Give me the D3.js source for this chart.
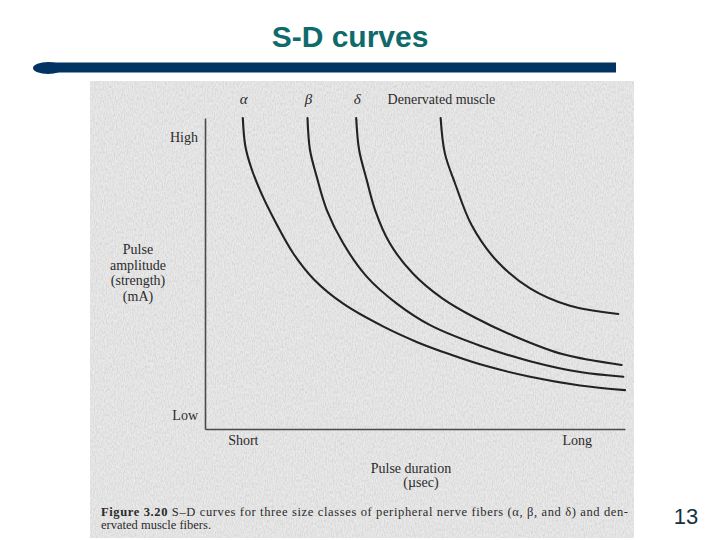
<!DOCTYPE html>
<html>
<head>
<meta charset="utf-8">
<script src="https://cdnjs.cloudflare.com/ajax/libs/d3/7.8.5/d3.min.js"></script>
<style>
  html, body { margin: 0; padding: 0; background: #ffffff; }
  svg { display: block; }
</style>
</head>
<body>
<script>
// ---------- data (arbitrary units 0–100 on both axes) ----------
const seriesNames = ["α", "β", "δ", "Denervated muscle"];

const alphaX = [9.0, 9.6, 11.0, 13.5, 17.0, 21.0, 26.0, 33.0, 42.5, 50.4, 58.3, 65.5, 77.4, 89.3, 100];
const alphaY = [100, 91.0, 84.0, 75.5, 66.0, 56.5, 48.0, 40.2, 32.9, 28.0, 24.0, 20.8, 16.8, 14.0, 12.5];

const betaX = [24.4, 25.0, 26.6, 29.0, 32.9, 38.5, 45.6, 53.6, 65.5, 77.4, 89.3, 99.6];
const betaY = [100, 89.7, 81.1, 70.4, 59.7, 49.0, 40.4, 33.4, 26.8, 21.8, 18.3, 16.8];

const deltaX = [36.0, 36.7, 38.5, 40.5, 44.0, 49.5, 56.5, 64.0, 73.4, 85.3, 99.2];
const deltaY = [100, 89.7, 80.1, 70.4, 59.7, 50.0, 42.0, 36.0, 30.0, 24.0, 20.6];

const muscleX = [56.1, 57.1, 59.5, 63.5, 69.5, 77.4, 86.9, 98.4];
const muscleY = [100, 88.7, 79.1, 65.5, 54.0, 45.2, 39.6, 37.0];

const yTickLabels = ["High", "Low"];
const yTickValues = [94, 4.5];
const xTickLabels = ["Short", "Long"];
const xTickValues = [9, 88.5];

const titleText = "S-D curves";
const yTitleLines = ["Pulse", "amplitude", "(strength)", "(mA)"];
const xTitleLines = ["Pulse duration", "(µsec)"];
const captionBold = "Figure 3.20";
const captionLine1 = "S–D curves for three size classes of peripheral nerve fibers (α, β, and δ) and den-";
const captionLine2 = "ervated muscle fibers.";
const pageNumber = "13";

// ---------- drawing ----------
const W = 720, H = 540;
const svg = d3.select("body").append("svg").attr("width", W).attr("height", H);

const defs = svg.append("defs");
const f = defs.append("filter").attr("id", "grain").attr("x", 0).attr("y", 0).attr("width", 1).attr("height", 1);
f.append("feTurbulence").attr("type", "fractalNoise").attr("baseFrequency", "0.9 0.35").attr("numOctaves", 2).attr("seed", 4).attr("result", "n");
f.append("feColorMatrix").attr("in", "n").attr("type", "matrix")
  .attr("values", "0 0 0 0 0.55  0 0 0 0 0.55  0 0 0 0 0.55  0 0 0 -1.1 0.72").attr("result", "m");
f.append("feComposite").attr("in", "m").attr("in2", "SourceGraphic").attr("operator", "in");

// slide title
svg.append("text")
  .attr("x", 350).attr("y", 47)
  .attr("text-anchor", "middle")
  .attr("font-family", "Liberation Sans, Arial, sans-serif")
  .attr("font-weight", "bold")
  .attr("font-size", 30)
  .attr("fill", "#0f6a6c")
  .text(titleText);

// title rule
svg.append("rect").attr("x", 48).attr("y", 62.5).attr("width", 568).attr("height", 10).attr("fill", "#023463");
svg.append("ellipse").attr("cx", 48).attr("cy", 68).attr("rx", 15).attr("ry", 6).attr("fill", "#023463");

// scanned page background
const scan = svg.append("g");
scan.append("rect").attr("x", 90).attr("y", 81).attr("width", 544).attr("height", 457).attr("fill", "#e9e9e9");
scan.append("rect").attr("x", 90).attr("y", 81).attr("width", 544).attr("height", 457).attr("fill", "#e9e9e9").attr("filter", "url(#grain)");

// scales
const x = d3.scaleLinear().domain([0, 100]).range([205, 625]);
const y = d3.scaleLinear().domain([0, 100]).range([429, 118]);

const serif = "Liberation Serif, 'DejaVu Serif', serif";
const ink = "#2b2b2b";

// axes
const yAxis = d3.axisLeft(y).tickValues(yTickValues).tickSize(0).tickSizeOuter(0).tickPadding(7)
  .tickFormat((d, i) => yTickLabels[i]);
const xAxis = d3.axisBottom(x).tickValues(xTickValues).tickSize(0).tickSizeOuter(0).tickPadding(6)
  .tickFormat((d, i) => xTickLabels[i]);

const gy = svg.append("g").attr("transform", `translate(${x(0)},0)`).call(yAxis);
const gx = svg.append("g").attr("transform", `translate(0,${y(0)})`).call(xAxis);
[gx, gy].forEach(g => {
  g.select(".domain").attr("stroke", "#4a4a4a").attr("stroke-width", 1.6);
  g.selectAll("text").attr("font-family", serif).attr("font-size", 14).attr("fill", ink);
});

// y title
svg.append("g").selectAll("text").data(yTitleLines).join("text")
  .attr("x", 138).attr("y", (d, i) => 254 + i * 15.5)
  .attr("text-anchor", "middle")
  .attr("font-family", serif).attr("font-size", 14).attr("fill", ink)
  .text(d => d);

// x title
svg.append("text").attr("x", 411).attr("y", 473).attr("text-anchor", "middle")
  .attr("font-family", serif).attr("font-size", 14).attr("fill", ink).text(xTitleLines[0]);
svg.append("text").attr("x", 421).attr("y", 487).attr("text-anchor", "middle")
  .attr("font-family", serif).attr("font-size", 14).attr("fill", ink).text(xTitleLines[1]);

// curves
const curves = [
  { name: seriesNames[0], xs: alphaX, ys: alphaY },
  { name: seriesNames[1], xs: betaX, ys: betaY },
  { name: seriesNames[2], xs: deltaX, ys: deltaY },
  { name: seriesNames[3], xs: muscleX, ys: muscleY }
];
const line = d3.line().x(d => x(d[0])).y(d => y(d[1])).curve(d3.curveCatmullRom.alpha(0.5));

svg.append("g").selectAll("path").data(curves).join("path")
  .attr("d", c => line(c.xs.map((v, i) => [v, c.ys[i]])))
  .attr("fill", "none").attr("stroke", "#222").attr("stroke-width", 2.1).attr("stroke-linecap", "round");

// curve labels
svg.append("g").selectAll("text").data(curves).join("text")
  .attr("x", (c, i) => i < 3 ? x(c.xs[0]) + 1 : x(c.xs[0]) - 53)
  .attr("y", 104)
  .attr("text-anchor", (c, i) => i < 3 ? "middle" : "start")
  .attr("font-family", serif)
  .attr("font-style", (c, i) => i < 3 ? "italic" : "normal")
  .attr("font-size", (c, i) => i < 3 ? 15 : 14)
  .attr("fill", ink)
  .text(c => c.name);

// caption
const cap = svg.append("text").attr("x", 101).attr("y", 516)
  .attr("font-family", serif).attr("font-size", 12.5).attr("fill", ink)
  .attr("textLength", 527).attr("lengthAdjust", "spacing");
cap.append("tspan").attr("font-weight", "bold").text(captionBold + "  ");
cap.append("tspan").text(captionLine1);
svg.append("text").attr("x", 101).attr("y", 529)
  .attr("font-family", serif).attr("font-size", 12.5).attr("fill", ink).text(captionLine2);

// page number
svg.append("text").attr("x", 686).attr("y", 524).attr("text-anchor", "middle")
  .attr("font-family", "Liberation Sans, Arial, sans-serif").attr("font-size", 22)
  .attr("fill", "#17323f").text(pageNumber);
</script>
</body>
</html>
